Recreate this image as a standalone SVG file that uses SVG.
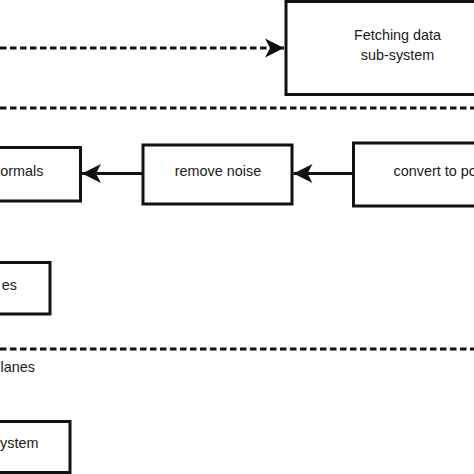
<svg xmlns="http://www.w3.org/2000/svg" width="474" height="474" viewBox="0 0 474 474">
<style>
.box{fill:#fff;stroke:#111;stroke-width:3}
.t{font-family:"Liberation Sans",Arial,sans-serif;font-size:14.4px;fill:#1a1a1a}
.dash{fill:none;stroke:#111;stroke-width:3;stroke-dasharray:6.5 3.5}
.line{fill:none;stroke:#111;stroke-width:3}
</style>
<defs>
<marker id="ah" markerUnits="userSpaceOnUse" markerWidth="22" markerHeight="22" viewBox="-20 -10 22 20" refX="0" refY="0" orient="auto">
<path d="M0,0 L-19,-9.5 L-14,0 L-19,9.5 Z" fill="#111"/>
</marker>
</defs>
<g id="connectors">
<line class="dash" x1="0" y1="48" x2="284" y2="48" marker-end="url(#ah)"/>
<line class="dash" x1="0" y1="108" x2="474" y2="108"/>
<line class="dash" x1="0" y1="349" x2="474" y2="349"/>
<line class="line" x1="353" y1="173.5" x2="293.5" y2="173.5" marker-end="url(#ah)"/>
<line class="line" x1="143" y1="173.5" x2="82" y2="173.5" marker-end="url(#ah)"/>
</g>
<g id="fetching">
<rect class="box" x="286" y="1.5" width="200" height="93"/>
<text class="t" x="397.5" y="40" text-anchor="middle">Fetching data</text>
<text class="t" x="397.5" y="59.5" text-anchor="middle">sub-system</text>
</g>
<g id="normals">
<rect class="box" x="-100" y="147.5" width="180.5" height="53.5"/>
<text class="t" x="43.5" y="176" text-anchor="end">ormals</text>
</g>
<g id="remove-noise">
<rect class="box" x="143" y="145" width="149" height="59"/>
<text class="t" x="218" y="176" text-anchor="middle">remove noise</text>
</g>
<g id="convert">
<rect class="box" x="353.5" y="143" width="140" height="63"/>
<text class="t" x="393.5" y="176">convert to po</text>
</g>
<g id="es">
<rect class="box" x="-100" y="262.5" width="150" height="51.5"/>
<text class="t" x="17" y="290" text-anchor="end">es</text>
</g>
<text class="t" x="35" y="372" text-anchor="end">lanes</text>
<g id="system">
<rect class="box" x="-100" y="421.5" width="170" height="51"/>
<text class="t" x="38.5" y="447.5" text-anchor="end">ystem</text>
</g>
</svg>
